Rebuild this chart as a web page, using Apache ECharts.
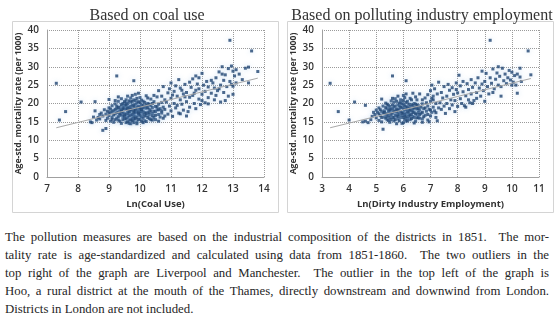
<!DOCTYPE html>
<html>
<head>
<meta charset="utf-8">
<script src="https://cdn.jsdelivr.net/npm/echarts@6/dist/echarts.min.js"></script>
<style>
  html, body { margin: 0; padding: 0; background: #fff; }
  #wrap { position: relative; width: 554px; height: 323px; overflow: hidden; }
  #chart { position: absolute; left: 0; top: 0; width: 554px; height: 215px; }
  #note { position: absolute; left: 5px; top: 229px; width: 544px;
          font-family: "Liberation Serif", "DejaVu Serif", serif; font-size: 12.8px;
          color: #262626; line-height: 17.9px; }
  #note .ln { text-align: justify; text-align-last: justify; white-space: nowrap; }
  #note .ln.last { text-align-last: left; }
</style>
</head>
<body>
<div id="wrap">
  <div id="chart"></div>
  <div id="note">
    <div class="ln">The pollution measures are based on the industrial composition of the districts in 1851.&nbsp; The mor-</div>
    <div class="ln">tality rate is age-standardized and calculated using data from 1851-1860.&nbsp; The two outliers in the</div>
    <div class="ln">top right of the graph are Liverpool and Manchester.&nbsp; The outlier in the top left of the graph is</div>
    <div class="ln">Hoo, a rural district at the mouth of the Thames, directly downstream and downwind from London.</div>
    <div class="ln last">Districts in London are not included.</div>
  </div>
</div>
<script>
// Panel titles and axis names
const panelTitles = ['Based on coal use', 'Based on polluting industry employment'];
const xNames = ['Ln(Coal Use)', 'Ln(Dirty Industry Employment)'];
const yName = 'Age-std. mortality rate (per 1000)';

// Axis ranges
const coalRange = [7, 14];
const dirtyRange = [3, 11];
const mortalityRange = [0, 40];

// Fitted trend lines (endpoints)
const coalTrend = [[7.3, 13.4], [13.8, 26.9]];
const dirtyTrend = [[3.3, 13.4], [10.7, 26.8]];

// District mortality vs ln(coal use)
const coalPoints = [
  [7.3,25.5],[7.4,15.5],[7.6,17.8],[8.1,20.4],[8.55,20.5],[8.4,15.0],[8.45,14.8],[8.5,16.3],[8.6,15.5],[8.55,18.0],
  [8.7,17.0],[8.8,12.7],[8.9,13.2],[9.0,21.1],[9.25,27.5],[9.8,26.2],
  [8.65,16.2],[8.7,15.8],[8.75,17.4],[8.8,16.6],[8.85,18.3],[8.9,15.4],[8.9,17.1],[8.95,16.0],[9.0,18.8],[9.0,16.7],
  [9.05,15.2],[9.05,17.6],[9.1,19.4],[9.1,16.3],[9.15,18.1],[9.15,14.9],[9.2,17.2],[9.2,19.9],[9.25,16.0],[9.25,18.6],
  [9.3,15.5],[9.3,17.7],[9.3,20.6],[9.35,16.8],[9.35,19.0],[9.4,14.6],[9.4,18.2],[9.4,21.3],[9.45,16.4],[9.45,17.5],
  [9.5,19.5],[9.5,15.9],[9.5,18.7],[9.55,17.0],[9.55,20.2],[9.55,14.8],[9.6,16.2],[9.6,18.0],[9.6,19.1],[9.6,22.0],
  [9.65,17.4],[9.65,15.4],[9.65,18.9],[9.7,16.8],[9.7,20.4],[9.7,17.9],[9.7,14.5],[9.75,19.6],[9.75,16.0],[9.75,18.4],
  [9.8,17.2],[9.8,21.0],[9.8,15.6],[9.8,18.8],[9.85,19.8],[9.85,16.6],[9.85,22.5],[9.9,17.7],[9.9,18.5],[9.9,15.0],
  [9.9,20.1],[9.95,16.9],[9.95,19.2],[10.0,17.5],[10.0,18.3],[10.0,21.6],[10.0,15.8],[10.05,16.4],[10.05,19.6],[10.1,18.0],
  [10.1,20.6],[10.1,17.1],[10.15,15.3],[10.15,19.0],[10.2,16.8],[10.2,18.7],[10.2,22.1],[10.25,17.6],[10.25,20.0],[10.3,15.9],
  [10.3,18.4],[10.3,16.9],[10.35,19.4],[10.35,21.2],[10.4,17.3],[10.4,18.9],[10.45,16.2],[10.45,20.5],[10.5,17.8],[10.5,19.2],
  [10.5,15.6],[10.55,18.3],[10.55,21.8],[10.6,17.0],[10.6,19.8],[10.65,16.3],[10.65,18.6],[10.7,20.3],[10.7,17.4],[10.75,19.0],
  [10.8,16.6],[10.8,21.0],
  [9.55,18.4],[9.6,17.3],[9.65,16.6],[9.7,19.2],[9.75,17.0],[9.8,18.1],[9.8,16.3],[9.85,17.6],[9.9,19.0],[9.9,16.2],
  [9.95,18.0],[10.0,16.8],[10.0,19.1],[10.05,17.8],[10.1,16.0],[10.1,18.9],[10.15,17.5],[9.45,19.0],[9.5,17.2],[9.4,16.9],
  [9.35,18.3],[9.3,16.4],[9.25,17.5],[9.2,18.4],[9.1,17.8],[9.6,20.0],[9.7,21.5],[9.85,20.8],[10.05,20.9],[9.95,22.8],
  [9.75,22.2],[10.25,21.5],[9.55,21.0],[9.45,20.0],[9.9,14.5],[9.65,14.6],[10.2,15.1],[10.4,15.5],[9.8,14.8],[10.6,15.2],
  [10.1,14.8],
  [9.15,16.9],[9.2,15.6],[9.25,19.3],[9.3,18.9],[9.35,17.3],[9.35,15.2],[9.4,19.7],[9.4,17.8],[9.45,15.6],[9.45,18.5],
  [9.5,16.6],[9.5,20.5],[9.55,15.8],[9.55,19.6],[9.6,15.0],[9.6,18.6],[9.65,20.7],[9.65,17.9],[9.7,15.6],[9.7,18.4],
  [9.75,15.3],[9.75,20.6],[9.8,19.4],[9.8,17.7],[9.85,15.9],[9.85,18.4],[9.9,21.4],[9.95,17.4],[9.95,15.6],[9.95,20.5],
  [10.0,18.8],[10.0,20.2],[10.05,15.2],[10.05,18.4],[10.1,19.5],[10.15,16.6],[10.15,20.3],[10.2,17.3],[10.2,19.6],[10.25,16.2],
  [10.25,18.9],[10.3,17.5],[10.35,15.6],[10.35,18.0],[10.4,16.6],[10.4,20.0],[10.45,17.9],[10.5,16.8],[10.55,19.1],[10.6,18.3],
  [9.05,18.5],[9.0,17.4],[8.95,17.9],[9.1,15.7],[9.2,20.8],[9.3,21.8],[10.3,19.8],[10.45,22.2],[10.7,18.0],[10.75,16.0],
  [10.6,23.5],[10.7,22.0],[10.75,24.6],[10.8,18.4],[10.85,20.4],[10.9,17.1],[10.9,22.9],[10.95,19.3],[11.0,25.6],[11.0,18.0],
  [11.0,21.4],[11.05,16.5],[11.1,20.0],[11.1,23.3],[11.15,18.8],[11.2,22.0],[11.2,19.5],[11.25,26.5],[11.25,17.4],[11.3,21.0],
  [11.3,24.2],[11.35,19.8],[11.4,22.6],[11.4,18.2],[11.45,25.2],[11.5,20.5],[11.5,23.0],[11.55,17.8],[11.6,21.7],[11.6,19.0],
  [11.65,24.4],[11.7,22.2],[11.7,26.7],[11.75,20.0],[11.8,23.6],[11.8,18.6],[11.85,25.3],[11.9,21.2],[11.9,24.0],[11.95,19.7],
  [12.0,28.2],[12.0,22.5],[12.0,20.8],[12.05,25.0],[12.1,23.3],[12.1,20.2],[12.15,26.0],[12.2,21.6],[12.2,24.5],[11.3,17.2],
  [11.5,16.6],[11.8,27.5],[11.45,21.8],[11.15,24.8],[11.6,25.8],[11.9,27.0],[12.2,19.9],[11.75,22.8],[11.05,22.3],[10.95,24.0],
  [11.35,23.6],
  [12.3,22.8],[12.35,25.6],[12.4,24.2],[12.4,21.0],[12.45,27.0],[12.5,23.5],[12.55,28.6],[12.6,25.0],[12.6,20.4],[12.65,30.0],
  [12.7,26.3],[12.7,23.0],[12.75,27.8],[12.8,24.6],[12.85,29.5],[12.85,22.0],[12.9,26.0],[12.9,37.2],[12.95,25.2],[13.0,28.8],
  [13.0,24.7],[13.05,27.5],[13.1,29.2],[13.1,25.6],[13.2,28.0],[13.3,26.5],[13.4,29.6],[13.5,29.9],[13.5,25.6],[13.6,34.3],
  [13.8,28.7],[12.55,24.0],[12.45,22.2],[12.3,26.3],[12.75,20.8],[13.0,22.5],[12.65,28.0],[12.95,30.2]
];

// District mortality vs ln(dirty industry employment)
const dirtyPoints = [
  [3.3,25.5],[3.6,17.8],[4.0,15.5],[4.2,20.4],[4.6,19.5],[4.5,15.0],[4.6,15.2],[4.7,14.8],[4.8,15.6],[4.85,16.5],
  [4.9,17.6],[5.25,13.0],[5.6,27.5],[6.1,26.2],[5.2,21.2],[9.2,37.2],[10.6,34.3],[10.7,27.8],[10.3,29.6],[10.2,22.8],
  [10.0,25.0],
  [4.95,17.0],[5.0,18.2],[5.0,16.1],[5.05,17.6],[5.1,15.4],[5.1,18.8],[5.15,16.7],[5.2,17.9],[5.2,15.0],[5.25,19.3],
  [5.3,16.3],[5.3,18.0],[5.35,17.1],[5.35,20.1],[5.4,15.6],[5.4,18.6],[5.45,16.8],[5.45,19.5],[5.5,17.6],[5.5,14.9],
  [5.55,18.3],[5.55,20.7],[5.6,16.2],[5.6,17.4],[5.65,19.0],[5.65,15.3],[5.7,18.0],[5.7,21.3],[5.75,16.6],[5.75,17.8],
  [5.8,19.6],[5.8,15.8],[5.85,18.4],[5.85,17.0],[5.9,20.3],[5.9,16.2],[5.95,18.9],[5.95,14.6],[6.0,17.5],[6.0,19.8],
  [6.0,22.2],[6.05,16.6],[6.05,18.2],[6.1,15.2],[6.1,19.2],[6.1,17.3],[6.15,20.6],[6.15,16.0],[6.2,18.6],[6.2,17.0],
  [6.25,21.4],[6.25,15.6],[6.3,18.0],[6.3,19.7],[6.35,16.5],[6.35,22.8],[6.4,17.6],[6.4,20.0],[6.45,15.2],[6.45,18.8],
  [6.5,17.0],[6.5,21.0],[6.55,16.2],[6.55,19.4],[6.6,18.2],[6.6,22.6],[6.65,17.3],[6.7,15.8],[6.7,19.9],[6.75,18.6],
  [6.8,16.8],[6.8,21.5],[6.85,17.9],[6.9,19.3],[6.9,15.5],[6.95,18.4],[7.0,20.6],[7.0,16.6],[7.05,17.6],[7.1,19.0],
  [7.1,22.0],[7.15,18.0],[7.2,16.2],[7.2,20.0],[7.25,15.3],[7.3,18.8],
  [5.6,18.6],[5.7,16.9],[5.8,17.3],[5.85,19.3],[5.9,17.8],[5.95,16.8],[6.0,18.6],[6.05,17.0],[6.1,18.5],[6.15,17.8],
  [6.2,16.4],[6.25,19.2],[6.3,17.0],[6.35,18.4],[6.4,16.2],[6.45,19.8],[6.5,18.5],[6.55,17.6],[6.6,16.0],[5.5,19.2],
  [5.45,18.0],[5.4,17.2],[5.35,16.0],[5.25,17.4],[5.15,18.3],[5.65,20.4],[5.9,21.0],[6.05,21.6],[6.3,21.0],[6.1,22.6],
  [5.8,22.0],[6.4,14.7],[6.7,14.9],[6.0,14.8],[5.75,14.5],[6.95,15.0],
  [5.3,17.6],[5.35,18.9],[5.4,16.4],[5.45,15.4],[5.5,16.2],[5.5,18.4],[5.55,17.0],[5.55,15.6],[5.6,19.6],[5.65,16.2],
  [5.65,17.9],[5.7,19.3],[5.7,15.6],[5.75,18.5],[5.75,20.6],[5.8,16.5],[5.8,18.2],[5.85,15.3],[5.85,20.1],[5.9,19.0],
  [5.95,17.4],[5.95,19.9],[6.0,16.2],[6.0,20.8],[6.05,19.4],[6.05,15.7],[6.1,20.3],[6.1,16.4],[6.15,18.9],[6.15,15.3],
  [6.2,19.8],[6.2,17.7],[6.25,16.8],[6.25,18.3],[6.3,15.9],[6.35,19.5],[6.35,17.6],[6.4,18.8],[6.45,17.2],[6.5,16.1],
  [6.5,19.6],[6.55,18.6],[6.6,17.0],[6.65,19.0],[6.7,17.6],[6.75,16.4],[6.8,18.8],[6.85,20.2],[6.9,17.0],[7.0,18.2],
  [5.6,21.4],[5.4,19.8],[5.2,16.2],[5.1,17.2],[6.45,21.8],[6.7,21.0],[6.9,22.4],[7.05,21.4],
  [7.0,23.5],[7.05,25.0],[7.1,21.0],[7.15,24.0],[7.2,17.5],[7.25,22.6],[7.3,25.8],[7.35,20.2],[7.4,18.4],[7.4,23.0],
  [7.45,21.5],[7.5,19.3],[7.5,24.6],[7.55,17.3],[7.6,22.0],[7.6,20.0],[7.65,25.2],[7.7,18.6],[7.7,23.6],[7.75,21.0],
  [7.8,19.6],[7.8,24.3],[7.85,22.5],[7.9,17.8],[7.9,20.8],[7.95,25.6],[8.0,22.9],[8.0,19.2],[8.05,27.7],[8.1,21.3],
  [8.1,24.8],[8.15,20.0],[8.2,23.2],[8.2,26.0],[8.25,19.4],[8.3,22.1],[8.35,25.4],[8.4,21.0],[8.4,23.8],[8.45,20.2],
  [8.5,26.5],[8.5,22.6],[8.55,24.4],[8.6,20.8],[8.65,25.6],[8.7,23.0],[8.7,21.4],[8.75,27.0],[8.8,24.2],[8.85,22.0],
  [8.9,25.3],[8.9,28.8],[8.95,23.5],[9.0,26.0],[9.0,20.6],[8.3,19.0],[7.95,23.8],[8.55,20.0],
  [9.05,28.2],[9.1,24.6],[9.15,22.6],[9.2,27.0],[9.25,25.5],[9.3,29.4],[9.35,24.0],[9.4,26.6],[9.45,28.3],[9.5,25.0],
  [9.5,30.0],[9.55,27.4],[9.6,24.6],[9.65,29.6],[9.7,26.2],[9.75,28.0],[9.8,25.4],[9.85,27.0],[9.9,29.0],[9.95,26.4],
  [10.0,28.5],[10.05,25.8],[10.1,27.6],[10.15,25.0],[10.2,28.0],[10.3,27.2],[10.35,26.0],[9.6,22.0],[9.3,23.0]
];

const chart = echarts.init(document.getElementById('chart'), null, { renderer: 'canvas' });

const gridLeft = [47, 322];
const gridTop = 30, gridW = 217, gridH = 147;
const ranges = [coalRange, dirtyRange];
const pointSets = [coalPoints, dirtyPoints];
const trends = [coalTrend, dirtyTrend];

const tickFont = { fontFamily: 'Open Sans, Liberation Sans, sans-serif', fontSize: 10, fontWeight: 600, color: '#333' };

const grids = [], xAxes = [], yAxes = [], series = [], titles = [];
for (let i = 0; i < 2; i++) {
  grids.push({ left: gridLeft[i], top: gridTop, width: gridW, height: gridH });
  xAxes.push({
    gridIndex: i, type: 'value', min: ranges[i][0], max: ranges[i][1], interval: 1,
    name: xNames[i], nameLocation: 'middle', nameGap: 21,
    nameTextStyle: { fontFamily: 'Open Sans, Liberation Sans, sans-serif', fontSize: 9.5, fontWeight: 'bold', color: '#333' },
    axisLine: { show: true, lineStyle: { color: '#a0a0a0', width: 1 } },
    axisTick: { show: false },
    axisLabel: Object.assign({ margin: 7 }, tickFont),
    splitLine: { show: true, lineStyle: { color: '#9a9a9a', type: 'dotted', width: 1 } }
  });
  yAxes.push({
    gridIndex: i, type: 'value', min: mortalityRange[0], max: mortalityRange[1], interval: 5,
    name: yName, nameLocation: 'middle', nameGap: 24,
    nameTextStyle: { fontFamily: 'Open Sans, Liberation Sans, sans-serif', fontSize: 8.6, fontWeight: 'bold', color: '#333' },
    axisLine: { show: true, lineStyle: { color: '#a0a0a0', width: 1 } },
    axisTick: { show: false },
    axisLabel: Object.assign({ margin: 8 }, tickFont),
    splitLine: { show: true, lineStyle: { color: '#9a9a9a', type: 'dotted', width: 1 } }
  });
  series.push({
    type: 'scatter', xAxisIndex: i, yAxisIndex: i, data: pointSets[i],
    symbol: 'rect', symbolSize: 3,
    itemStyle: { color: '#1f4371', shadowBlur: 5, shadowColor: 'rgba(140,185,230,0.55)' },
    silent: true, z: 3
  });
  series.push({
    type: 'line', xAxisIndex: i, yAxisIndex: i, data: trends[i],
    symbol: 'none', lineStyle: { color: '#a8a8a8', width: 1 }, silent: true, z: 4
  });
  titles.push({
    text: panelTitles[i],
    left: i === 0 ? 142 : 417, top: 3, textAlign: 'center',
    textStyle: { fontFamily: 'Liberation Serif, DejaVu Serif, serif', fontSize: 16, fontWeight: 'normal', color: '#333' }
  });
}

chart.setOption({
  animation: false,
  backgroundColor: '#fff',
  title: titles,
  grid: grids,
  xAxis: xAxes,
  yAxis: yAxes,
  series: series,
  graphic: [
    { type: 'rect', shape: { x: 12.5, y: 21.5, width: 266, height: 191 }, style: { fill: 'none', stroke: '#d4d4d4', lineWidth: 1 }, z: 0 },
    { type: 'rect', shape: { x: 287.5, y: 21.5, width: 266, height: 191 }, style: { fill: 'none', stroke: '#d4d4d4', lineWidth: 1 }, z: 0 }
  ]
});
</script>
</body>
</html>
